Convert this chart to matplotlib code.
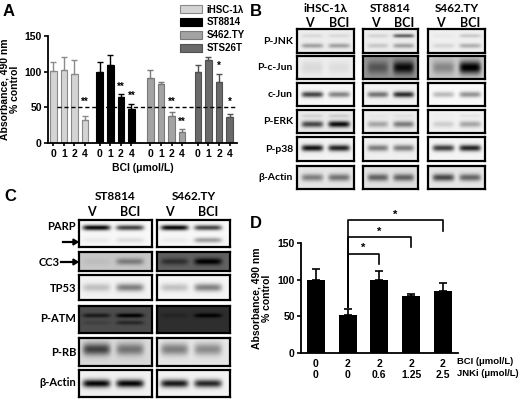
import numpy as np
import matplotlib
matplotlib.use('Agg')
import matplotlib.pyplot as plt

W, H = 520, 400
plt.rcParams['font.family'] = ['Liberation Sans', 'DejaVu Sans']
plt.rcParams['font.weight'] = 'bold'
BLOT_FONT = ['Lato', 'DejaVu Sans']

# ---- panel A: viability by BCI dose
doses_a = ['0', '1', '2', '4']
lines_a = ['iHSC-1λ', 'ST8814', 'S462.TY', 'STS26T']
means_a = [[101, 102, 97, 32], [100, 110, 65, 48], [91, 83, 38, 16], [100, 116, 85, 37]]
errs_a = [[13, 18, 19, 6], [14, 13, 3, 7], [11, 2, 5, 3], [10, 4, 12, 4]]
stars_a = [['', '', '', '**'], ['', '', '**', '**'], ['', '', '**', '**'], ['', '', '*', '*']]

# ---- panel D: BCI + JNK inhibitor
bci_d = ['0', '2', '2', '2', '2']
jnki_d = ['0', '0', '0.6', '1.25', '2.5']
means_d = [100, 52, 99, 78, 84]
errs_d = [14, 8, 13, 2, 11]
compare_d = [(1, 2), (1, 3), (1, 4)]

# ---- panel B: western blots (darkness 0..1 of band per lane V / BCI)
cells_b = ['iHSC-1λ', 'ST8814', 'S462.TY']
rows_b = ['P-JNK', 'P-c-Jun', 'c-Jun', 'P-ERK', 'P-p38', 'β-Actin']
bg_b = [[0.07, 0.07, 0.06], [0.07, 0.42, 0.22], [0.03, 0.05, 0.02],
        [0.08, 0.07, 0.05], [0.05, 0.06, 0.04], [0.10, 0.12, 0.10]]
# (row position, thickness) of bands in each row
pos_b = [[(0.28, 0.08), (0.70, 0.10)], [(0.50, 0.28)], [(0.50, 0.13)],
         [(0.25, 0.08), (0.62, 0.14)], [(0.48, 0.13)], [(0.50, 0.16)]]
# intensities: row -> cell line -> band -> [V, BCI]
int_b = [
    [[[0.08, 0.08], [0.30, 0.30]], [[0.10, 0.55], [0.15, 0.30]], [[0.03, 0.15], [0.10, 0.25]]],
    [[[0.08, 0.06]], [[0.25, 0.55]], [[0.25, 0.80]]],
    [[[0.70, 0.45]], [[0.50, 0.78]], [[0.25, 0.40]]],
    [[[0.10, 0.12], [0.65, 0.88]], [[0.03, 0.05], [0.28, 0.45]], [[0.02, 0.06], [0.14, 0.30]]],
    [[[0.88, 0.82]], [[0.45, 0.45]], [[0.72, 0.82]]],
    [[[0.40, 0.45]], [[0.50, 0.50]], [[0.62, 0.50]]],
]

# ---- panel C: western blots
cells_c = ['ST8814', 'S462.TY']
rows_c = ['PARP', 'CC3', 'TP53', 'P-ATM', 'P-RB', 'β-Actin']
bg_c = [[0.03, 0.03], [0.22, 0.62], [0.05, 0.04], [0.70, 0.82], [0.15, 0.10], [0.06, 0.05]]
pos_c = [[(0.28, 0.10), (0.75, 0.10)], [(0.50, 0.18)], [(0.50, 0.16)],
         [(0.35, 0.08), (0.62, 0.08)], [(0.40, 0.22)], [(0.50, 0.15)]]
int_c = [
    [[[0.95, 0.72], [0.05, 0.10]], [[0.95, 0.70], [0.05, 0.35]]],
    [[[0.04, 0.30]], [[0.20, 0.38]]],
    [[[0.20, 0.45]], [[0.20, 0.45]]],
    [[[0.20, 0.30], [0.05, 0.15]], [[0.04, 0.18], [0.00, 0.00]]],
    [[[0.60, 0.40]], [[0.40, 0.35]]],
    [[[0.92, 0.92]], [[0.85, 0.80]]],
]

fig = plt.figure(figsize=(W / 100, H / 100), dpi=100)


def rect(x0, y0, x1, y1):
    return [x0 / W, 1 - y1 / H, (x1 - x0) / W, (y1 - y0) / H]


def ftext(x, y, s, **kw):
    fig.text(x / W, 1 - y / H, s, **kw)


def blot(ax, bg, bands, ints, centers=(0.27, 0.74)):
    y = np.linspace(0, 1, 60)[:, None]
    x = np.linspace(0, 1, 200)[None, :]
    dark = np.full((60, 200), bg)
    for (y0, sy), lane_ints in zip(bands, ints):
        for c, v in zip(centers, lane_ints):
            lane = np.exp(-((x - c) / 0.19) ** 6)
            dark = dark + v * np.exp(-((y - y0) / sy) ** 2) * lane
    img = 1 - np.clip(dark, 0, 1)
    ax.imshow(img, cmap='gray', vmin=0, vmax=1, aspect='auto',
              interpolation='bilinear', extent=(0, 1, 1, 0))
    ax.set_xticks([])
    ax.set_yticks([])
    for sp in ax.spines.values():
        sp.set_linewidth(1.6)


# ================= panel A
axA = fig.add_axes(rect(48, 36, 237, 143))
fills = ['#d4d4d4', '#000000', '#a3a3a3', '#6a6a6a']
edges = ['#8a8a8a', '#000000', '#7a7a7a', '#505050']
starts = [0, 4.4, 9.2, 13.7]
ticks_x, ticks_l = [], []
for g in range(4):
    xs = [starts[g] + i for i in range(4)]
    axA.bar(xs, means_a[g], width=0.62, color=fills[g], edgecolor=edges[g],
            linewidth=0.8, label=lines_a[g], zorder=2)
    axA.errorbar(xs, means_a[g], yerr=[np.zeros(4), errs_a[g]], fmt='none',
                 ecolor=edges[g], elinewidth=1.0, capsize=2, capthick=1.0, zorder=2)
    for x, m, e, s in zip(xs, means_a[g], errs_a[g], stars_a[g]):
        if s:
            ys = m + e + 11
            if 42 < ys < 57:
                ys = 58  # keep stars clear of the dashed 50% line
            axA.text(x, ys, s, ha='center', va='center', fontsize=7,
                     fontweight='bold', zorder=3)
    ticks_x += xs
    ticks_l += doses_a
axA.axhline(50, xmin=0.05, xmax=1, color='black', ls=(0, (3, 2)), lw=1.0, zorder=3)
axA.set_xlim(-0.5, 17.4)
axA.set_ylim(0, 150)
axA.set_yticks([0, 50, 100, 150])
axA.set_xticks(ticks_x)
axA.set_xticklabels(ticks_l)
axA.tick_params(labelsize=7.5, width=1.2, length=3, pad=1.5)
axA.tick_params(axis='x', length=2.5)
for sp in ['top', 'right']:
    axA.spines[sp].set_visible(False)
for sp in ['left', 'bottom']:
    axA.spines[sp].set_linewidth(1.3)
axA.set_xlabel('BCI (μmol/L)', fontsize=7.5, fontweight='bold', labelpad=3)
axA.set_ylabel('Absorbance, 490 nm\n% control', fontsize=7.5, fontweight='bold',
               labelpad=3, linespacing=1.1)
axA.legend(loc='upper left', bbox_to_anchor=(0.68, 1.33), frameon=False,
           handlelength=2.2, handleheight=0.8, labelspacing=0.3, borderaxespad=0,
           handletextpad=0.5, prop={'weight': 'bold', 'size': 7})

# ================= panel D
axD = fig.add_axes(rect(301, 243, 458, 353))
xd = np.arange(len(means_d))
axD.bar(xd, means_d, width=0.57, color='black', zorder=2)
axD.errorbar(xd, means_d, yerr=[np.zeros(len(xd)), errs_d], fmt='none', ecolor='black',
             elinewidth=1.2, capsize=3, capthick=1.2, zorder=2)
for k, (a, b) in enumerate(compare_d):
    h = 135 + 23 * k
    axD.plot([a, a, b, b], [means_d[a] + errs_d[a] + 3, h, h, h - 14], color='black',
             lw=1.2, clip_on=False)
    axD.text((a + b) / 2, h + 1, '*', ha='center', va='bottom', fontsize=8,
             fontweight='bold', clip_on=False)
axD.set_xlim(-0.47, 4.48)
axD.set_ylim(0, 150)
axD.set_yticks([0, 50, 100, 150])
axD.set_xticks(xd)
axD.set_xticklabels([f'{b}\n{j}' for b, j in zip(bci_d, jnki_d)], linespacing=1.2)
axD.tick_params(labelsize=7.5, width=1.2, length=3, pad=1.5)
axD.tick_params(axis='x', length=0, pad=4)
for sp in ['top', 'right']:
    axD.spines[sp].set_visible(False)
for sp in ['left', 'bottom']:
    axD.spines[sp].set_linewidth(1.3)
axD.set_ylabel('Absorbance, 490 nm\n% control', fontsize=7.5, fontweight='bold',
               labelpad=4, linespacing=1.1)
ftext(457, 362, 'BCI (μmol/L)', fontsize=6.8, fontweight='bold', va='center')
ftext(457, 373, 'JNKi (μmol/L)', fontsize=6.8, fontweight='bold', va='center')

# ================= panel B
box_x_b = [(297, 354), (363, 418), (428, 485)]
box_y_b = [(29, 53), (56, 79), (83, 106), (110, 133), (137, 161), (166, 189)]
for c, (x0, x1) in enumerate(box_x_b):
    ftext((x0 + x1) / 2, 8, cells_b[c], ha='center', va='center', fontsize=8.5,
          fontweight='bold', family=BLOT_FONT)
    ftext(x0 + 0.22 * (x1 - x0), 23, 'V', ha='center', va='center', fontsize=9,
          fontweight='bold', family=BLOT_FONT)
    ftext(x0 + 0.74 * (x1 - x0), 23, 'BCI', ha='center', va='center', fontsize=9,
          fontweight='bold', family=BLOT_FONT)
    for r, (y0, y1) in enumerate(box_y_b):
        ax = fig.add_axes(rect(x0, y0, x1, y1))
        blot(ax, bg_b[r][c], pos_b[r], int_b[r][c])
for r, (y0, y1) in enumerate(box_y_b):
    ftext(293, (y0 + y1) / 2, rows_b[r], ha='right', va='center', fontsize=7.5,
          fontweight='bold', family=BLOT_FONT)

# ================= panel C
box_x_c = [(79, 152), (157, 230)]
box_y_c = [(220, 247), (252, 271), (275, 300), (306, 333), (338, 366), (370, 397)]
for c, (x0, x1) in enumerate(box_x_c):
    ftext((x0 + x1) / 2, 197, cells_c[c], ha='center', va='center', fontsize=8.5,
          fontweight='bold', family=BLOT_FONT)
    ftext(x0 + 0.17 * (x1 - x0), 212, 'V', ha='center', va='center', fontsize=9,
          fontweight='bold', family=BLOT_FONT)
    ftext(x0 + 0.70 * (x1 - x0), 212, 'BCI', ha='center', va='center', fontsize=9,
          fontweight='bold', family=BLOT_FONT)
    for r, (y0, y1) in enumerate(box_y_c):
        ax = fig.add_axes(rect(x0, y0, x1, y1))
        blot(ax, bg_c[r][c], pos_c[r], int_c[r][c], centers=(0.24, 0.70))
label_y_c = [227, 262, 288, 319, 352, 383]
label_x_c = [76, 60, 76, 76, 76, 76]
for r in range(len(rows_c)):
    ftext(label_x_c[r], label_y_c[r], rows_c[r], ha='right', va='center', fontsize=8,
          fontweight='bold', family=BLOT_FONT)
for (xa, xb, ya) in [(63, 78, 242), (61, 78, 262)]:
    fig.add_artist(plt.Line2D([xa / W, (xb - 4) / W], [1 - ya / H] * 2, color='black',
                              lw=1.6, transform=fig.transFigure))
    fig.add_artist(plt.Polygon([[xb / W, 1 - ya / H], [(xb - 5) / W, 1 - (ya - 3) / H],
                                [(xb - 5) / W, 1 - (ya + 3) / H]], closed=True,
                               color='black', transform=fig.transFigure))

# panel letters
for s, x, y in [('A', 9, 11), ('B', 256, 11), ('C', 10, 197), ('D', 256, 223)]:
    ftext(x, y, s, ha='center', va='center', fontsize=12, fontweight='bold')

fig.savefig('out.png', dpi=100)
